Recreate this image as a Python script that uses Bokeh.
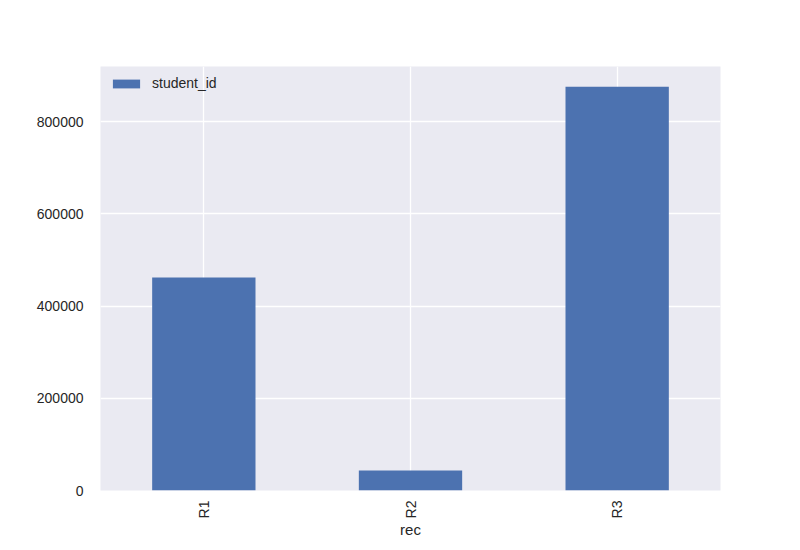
import math
from bokeh.plotting import figure
from bokeh.models import ColumnDataSource, FixedTicker, Range1d, NumeralTickFormatter, Legend, LegendItem
from bokeh.embed import file_html
from bokeh.resources import INLINE

categories = ["R1", "R2", "R3"]
student_id = [461800, 43400, 875900]
y_ticks = [0, 200000, 400000, 600000, 800000]

source = ColumnDataSource(data=dict(rec=categories, student_id=student_id))

FONT = "Liberation Sans"
TXT = "#262626"

p = figure(
    x_range=categories,
    y_range=Range1d(0, max(student_id) * 1.05),
    frame_width=620, frame_height=424,
    min_border_left=100, min_border_right=80, min_border_top=66, min_border_bottom=60,
    output_backend="svg", toolbar_location=None,
    background_fill_color="#EAEAF2", border_fill_color="white",
)
p.x_range.range_padding = 0
p.outline_line_color = None

r = p.vbar(x="rec", top="student_id", width=0.5, source=source,
           fill_color="#4C72B0", line_color=None)

for ax in (p.xaxis[0], p.yaxis[0]):
    ax.axis_line_color = None
    ax.major_tick_line_color = None
    ax.minor_tick_line_color = None
    ax.major_label_text_font = FONT
    ax.major_label_text_font_size = "14px"
    ax.major_label_text_color = TXT

p.yaxis[0].ticker = FixedTicker(ticks=y_ticks)
p.yaxis[0].formatter = NumeralTickFormatter(format="0")
p.yaxis[0].major_label_standoff = 11

p.xaxis[0].major_label_orientation = math.pi / 2
p.xaxis[0].major_label_standoff = 4
p.xaxis[0].axis_label = "rec"
p.xaxis[0].axis_label_text_font = FONT
p.xaxis[0].axis_label_text_font_size = "15px"
p.xaxis[0].axis_label_text_font_style = "normal"
p.xaxis[0].axis_label_text_color = TXT
p.xaxis[0].axis_label_standoff = 0

p.xgrid.grid_line_color = "white"
p.ygrid.grid_line_color = "white"
p.xgrid.grid_line_width = 1.3
p.ygrid.grid_line_width = 1.3

legend = Legend(items=[LegendItem(label="student_id", renderers=[r])],
                location="top_left", border_line_color=None,
                background_fill_alpha=0, margin=9, padding=5,
                glyph_width=34, glyph_height=11, label_standoff=9,
                label_text_font=FONT, label_text_font_size="14px",
                label_text_color=TXT)
p.add_layout(legend)

open("out.html", "w").write(file_html(p, INLINE))
